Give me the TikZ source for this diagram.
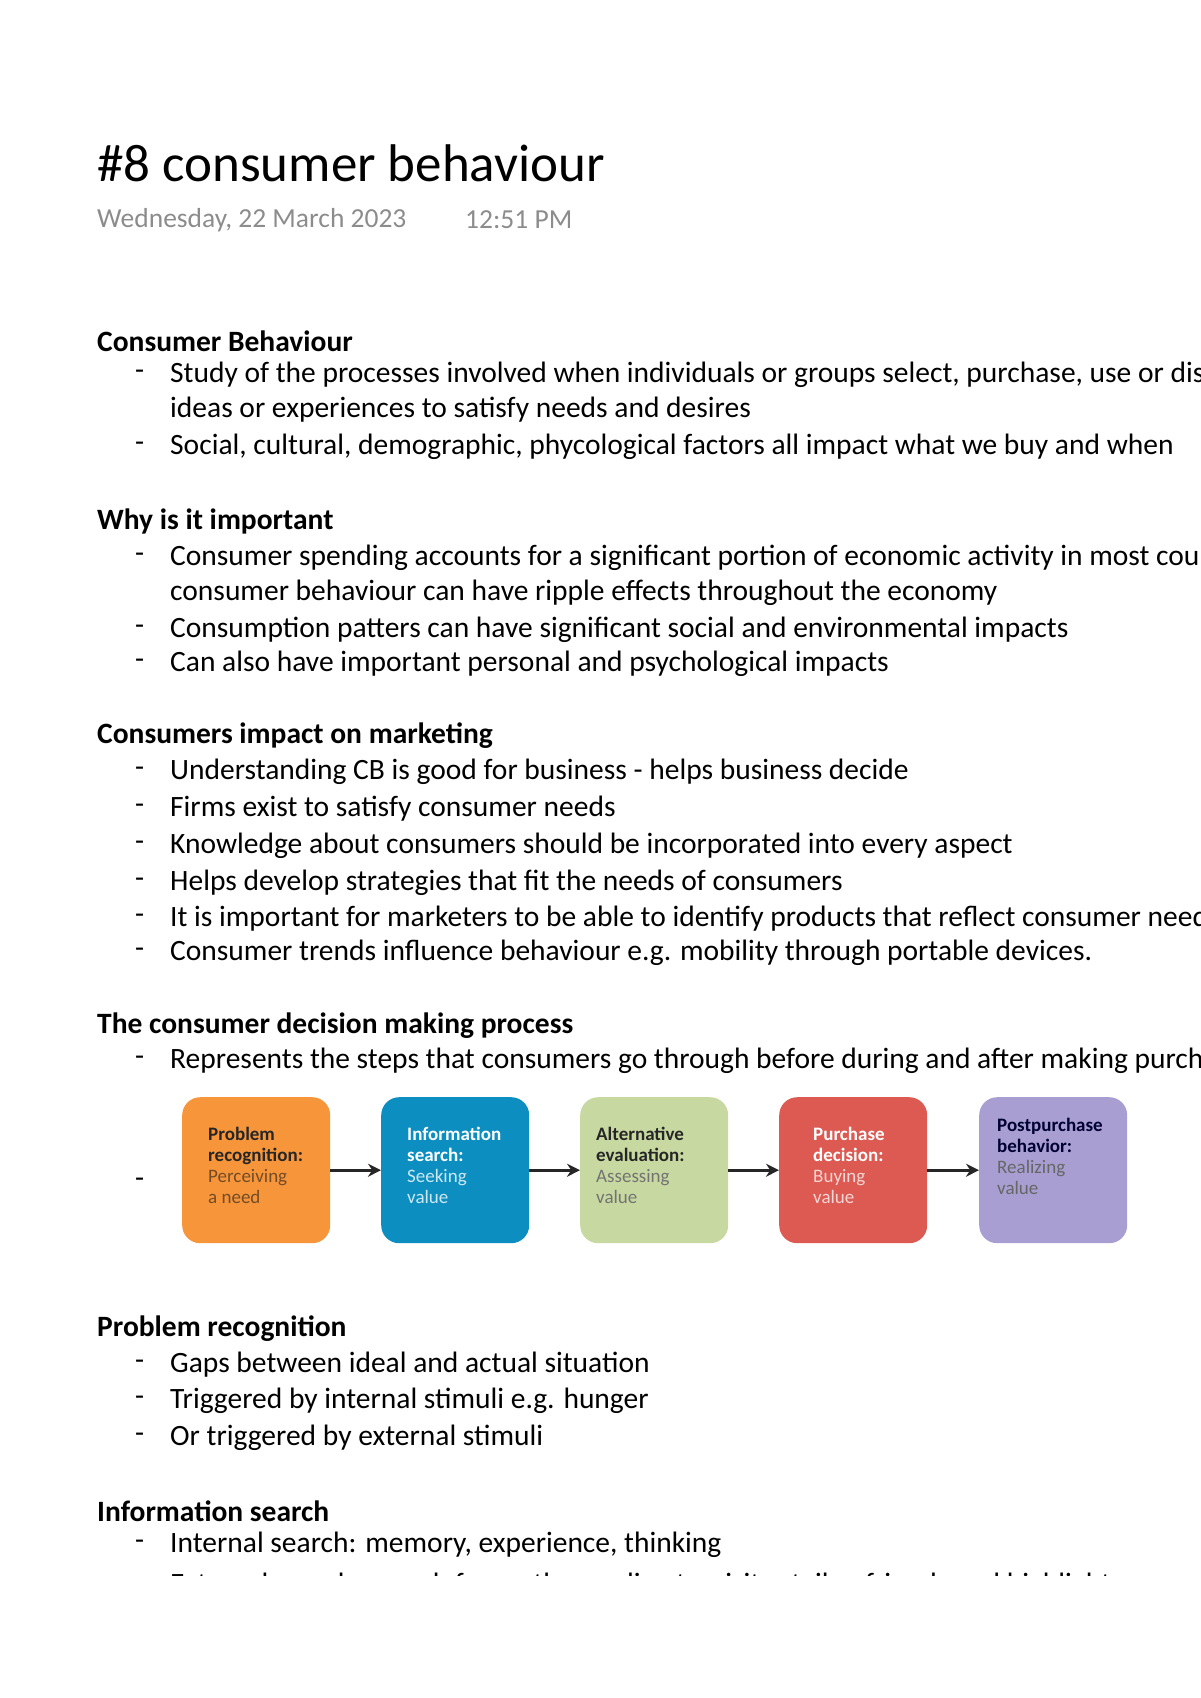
\documentclass[tikz,border=0pt]{standalone}
\usepackage{fontspec}
\setmainfont{Carlito}
\usetikzlibrary{arrows.meta}
\definecolor{gr}{HTML}{8C8C8C}
\definecolor{c1}{HTML}{F7953B}
\definecolor{c2}{HTML}{0C8EC0}
\definecolor{c3}{HTML}{C7D9A1}
\definecolor{c4}{HTML}{DC5A52}
\definecolor{c5}{HTML}{A89ED2}
\tikzset{
 txt/.style={anchor=west,inner sep=0pt,font=\fontsize{29.5}{33}\selectfont},
 hd/.style={txt,font=\fontsize{29.5}{33}\selectfont\bfseries},
 bx/.style={rounded corners=18pt,minimum width=148pt,minimum height=146pt,inner sep=0pt,anchor=north west},
 bt/.style={anchor=north west,align=left,inner sep=0pt,font=\fontsize{19}{21}\selectfont},
 arr/.style={-{Stealth[length=13pt,width=13pt]},line width=3pt,black!85}
}
\newcommand{\bl}[3]{\node[txt] (d#1) at (135,#2) {-}; \node[txt] (t#1) at (170,#2) {#3};}
\begin{document}
\begin{tikzpicture}[x=1pt,y=-1pt]
\useasboundingbox (0,0) rectangle (1200,1698);
\clip (0,0) rectangle (1200,1575);
\node[txt,font=\fontsize{53}{58}\selectfont] (title) at (97,163) {\#8 consumer behaviour};
\node[txt,text=gr,font=\fontsize{27.5}{30}\selectfont] (date) at (97,220) {Wednesday, 22 March 2023};
\node[txt,text=gr,font=\fontsize{27.5}{30}\selectfont] (time) at (465,220) {12:51 PM};
\node[hd] (h1) at (97,341) {Consumer Behaviour};
\bl{1}{375}{Study of the processes involved when individuals or groups select, purchase, use or dispose}
\node[txt] (t1b) at (170,410) {ideas or experiences to satisfy needs and desires};
\bl{2}{447}{Social, cultural, demographic, phycological factors all impact what we buy and when}
\node[hd] (h2) at (97,521) {Why is it important};
\bl{3}{558}{Consumer spending accounts for a significant portion of economic activity in most countries}
\node[txt] (t3b) at (170,593) {consumer behaviour can have ripple effects throughout the economy};
\bl{4}{630}{Consumption patters can have significant social and environmental impacts}
\bl{5}{664}{Can also have important personal and psychological impacts}
\node[hd] (h3) at (97,736) {Consumers impact on marketing};
\bl{6}{772}{Understanding CB is good for business - helps business decide}
\bl{7}{809}{Firms exist to satisfy consumer needs}
\bl{8}{846}{Knowledge about consumers should be incorporated into every aspect}
\bl{9}{883}{Helps develop strategies that fit the needs of consumers}
\bl{10}{919}{It is important for marketers to be able to identify products that reflect consumer needs}
\bl{11}{953}{Consumer trends influence behaviour e.g. mobility through portable devices.}
\node[hd] (h4) at (97,1026) {The consumer decision making process};
\bl{12}{1061}{Represents the steps that consumers go through before during and after making purchases}
\node[txt] (d13) at (135,1183) {-};
% flowchart
\node[bx,fill=c1] (b1) at (182,1097) {};
\node[bx,fill=c2] (b2) at (381,1097) {};
\node[bx,fill=c3] (b3) at (580,1097) {};
\node[bx,fill=c4] (b4) at (779,1097) {};
\node[bx,fill=c5] (b5) at (979,1097) {};
\node[bt] (l1) at ([xshift=26pt,yshift=-30pt]b1.north west) {\textcolor{black!85}{\bfseries Problem}\\\textcolor{black!85}{\bfseries recognition:}\\\textcolor{brown!60!black}{Perceiving}\\\textcolor{brown!60!black}{a need}};
\node[bt] (l2) at ([xshift=26pt,yshift=-30pt]b2.north west) {\textcolor{white}{\bfseries Information}\\\textcolor{white}{\bfseries search:}\\\textcolor{white!80!c2}{Seeking}\\\textcolor{white!80!c2}{value}};
\node[bt] (l3) at ([xshift=16pt,yshift=-30pt]b3.north west) {\textcolor{black!85}{\bfseries Alternative}\\\textcolor{black!85}{\bfseries evaluation:}\\\textcolor{black!55}{Assessing}\\\textcolor{black!55}{value}};
\node[bt] (l4) at ([xshift=34pt,yshift=-30pt]b4.north west) {\textcolor{white}{\bfseries Purchase}\\\textcolor{white}{\bfseries decision:}\\\textcolor{white!75!c4}{Buying}\\\textcolor{white!75!c4}{value}};
\node[bt] (l5) at ([xshift=18pt,yshift=-21pt]b5.north west) {\textcolor{black!80!blue}{\bfseries Postpurchase}\\\textcolor{black!80!blue}{\bfseries behavior:}\\\textcolor{black!60}{Realizing}\\\textcolor{black!60}{value}};
\draw[arr] (b1.east) -- (b2.west);
\draw[arr] (b2.east) -- (b3.west);
\draw[arr] (b3.east) -- (b4.west);
\draw[arr] (b4.east) -- (b5.west);
\node[hd] (h5) at (97,1329) {Problem recognition};
\bl{14}{1365}{Gaps between ideal and actual situation}
\bl{15}{1401}{Triggered by internal stimuli e.g. hunger}
\bl{16}{1438}{Or triggered by external stimuli}
\node[hd] (h6) at (97,1511) {Information search};
\bl{17}{1545}{Internal search: memory, experience, thinking}
\bl{18}{1586}{External search: search for on the media etc, visit retailer, friends and highlight}
\end{tikzpicture}
\end{document}
